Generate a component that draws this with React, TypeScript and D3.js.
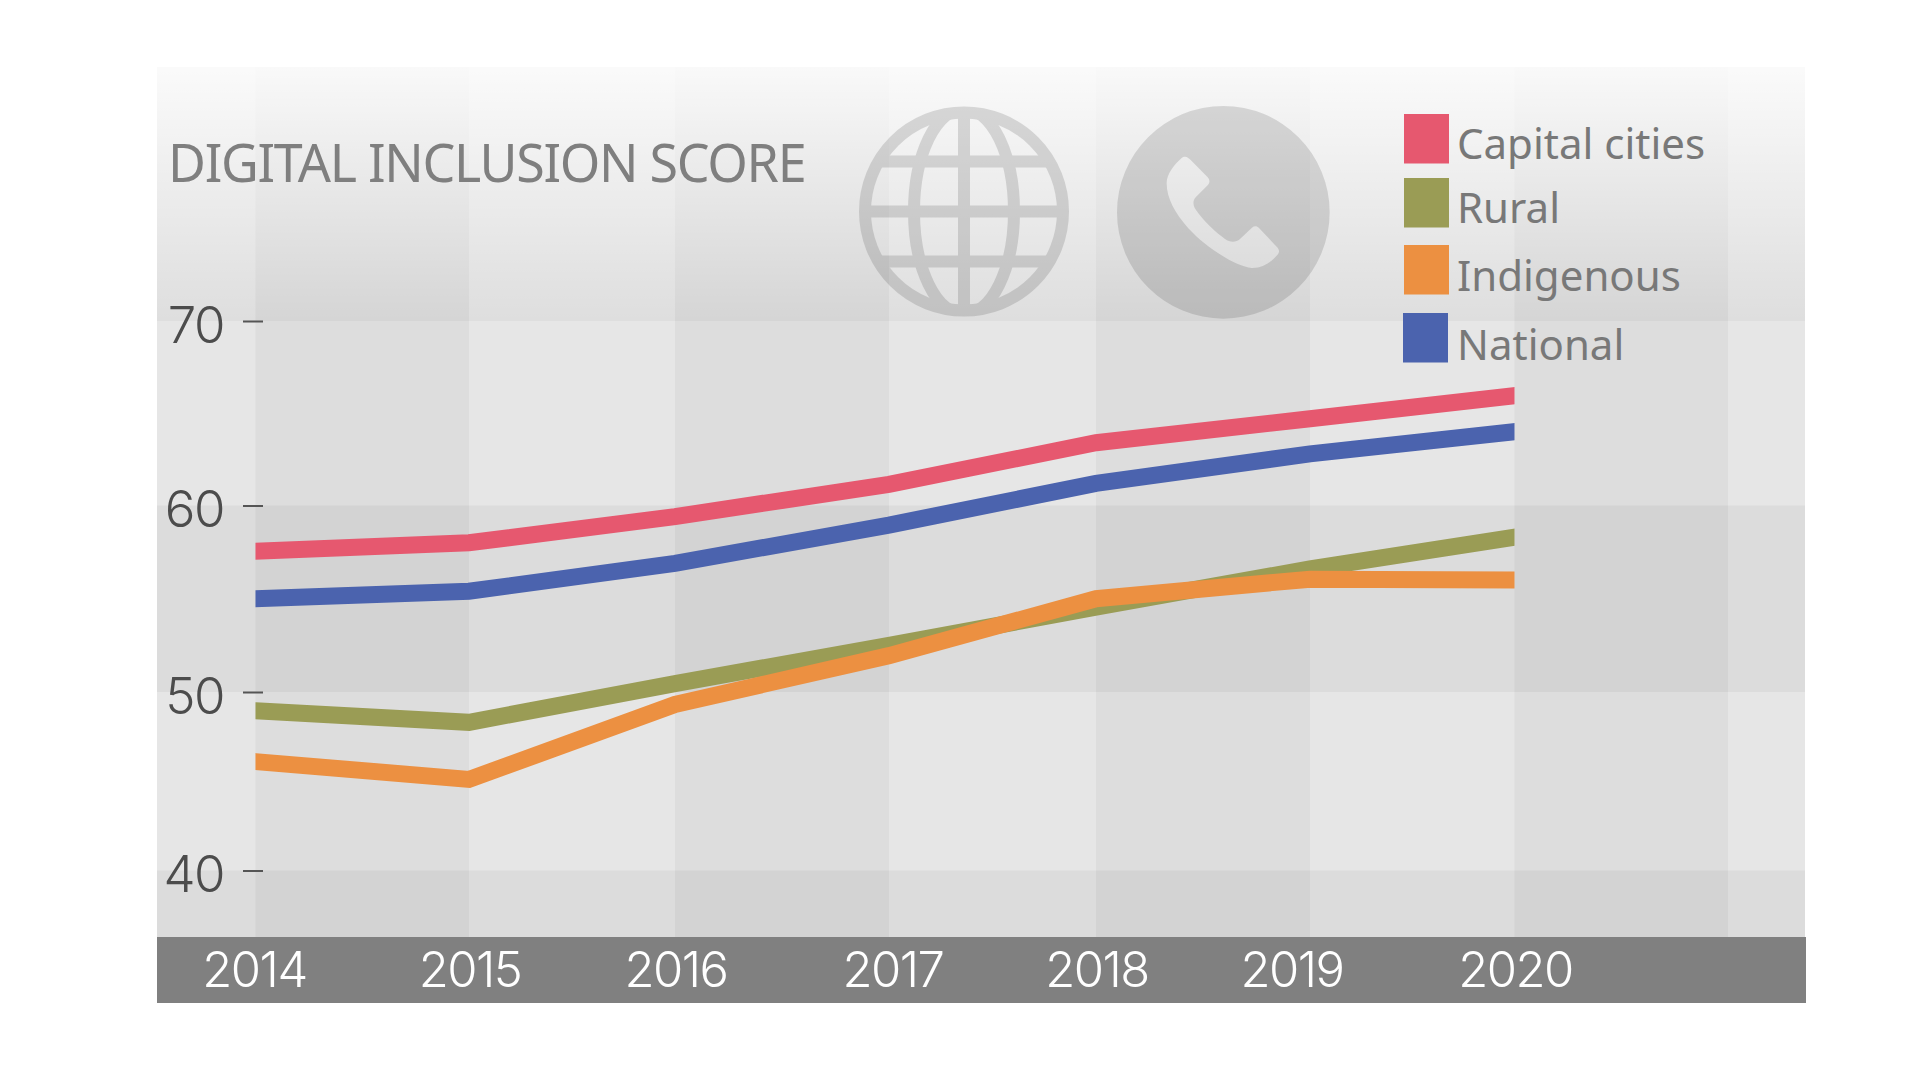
import { useEffect, useRef } from "react";
import * as d3 from "d3";

const years = [2014, 2015, 2016, 2017, 2018, 2019, 2020, 2021];
const yearLabels = [2014, 2015, 2016, 2017, 2018, 2019, 2020];
const yTicks = [40, 50, 60, 70];

const capitalCities = [57.55, 58.0, 59.4, 61.15, 63.4, 64.7, 65.95];
const rural = [48.95, 48.3, 50.45, 52.5, 54.55, 56.6, 58.3];
const indigenous = [46.1, 45.1, 49.3, 51.95, 55.0, 56.05, 56.0];
const national = [55.0, 55.4, 56.9, 58.95, 61.2, 62.8, 64.0];

const legendNames = ["Capital cities", "Rural", "Indigenous", "National"];
const legendColors = ["#e6586f", "#9a9c55", "#ec9041", "#4b63ae"];

const WIDTH = 1920;
const HEIGHT = 1080;
const LEFT = 157;
const RIGHT = 1805;
const TOP = 67;
const PLOT_BOTTOM = 937;
const BAR_BOTTOM = 1003;
const FONT = "'Noto Sans', sans-serif";
const NUM_FONT = "Inter, sans-serif";

export default function App() {
  const svgRef = useRef<SVGSVGElement>(null);

  useEffect(() => {
    if (!svgRef.current) return;
    const svg = d3.select(svgRef.current);
    svg.selectAll("*").remove();

    // the columns and bands of the original are not quite even, so both scales are piecewise
    const x = d3.scaleLinear()
      .domain(years)
      .range([255.5, 469, 675, 889, 1096, 1310, 1514.5, 1728]);
    const y = d3.scaleLinear()
      .domain([40, 50, 60, 70])
      .range([870.5, 692, 505.5, 321]);

    const defs = svg.append("defs");
    const grad = defs.append("linearGradient")
      .attr("id", "topFade")
      .attr("x1", 0).attr("x2", 0).attr("y1", 0).attr("y2", 1);
    grad.append("stop").attr("offset", 0).attr("stop-color", "#fff").attr("stop-opacity", 0.86);
    grad.append("stop").attr("offset", 1).attr("stop-color", "#fff").attr("stop-opacity", 0);
    defs.append("clipPath").attr("id", "lineClip")
      .append("rect")
      .attr("x", x(2014)).attr("y", TOP)
      .attr("width", x(2020) - x(2014)).attr("height", PLOT_BOTTOM - TOP);

    // background
    svg.append("rect")
      .attr("x", LEFT).attr("y", y(70))
      .attr("width", RIGHT - LEFT).attr("height", PLOT_BOTTOM - y(70))
      .attr("fill", "#e6e6e6");
    svg.append("rect")
      .attr("x", LEFT).attr("y", TOP)
      .attr("width", RIGHT - LEFT).attr("height", y(70) - TOP)
      .attr("fill", "#dedede");
    svg.append("rect")
      .attr("x", LEFT).attr("y", y(60))
      .attr("width", RIGHT - LEFT).attr("height", y(50) - y(60))
      .attr("fill", "#000").attr("opacity", 0.045);
    svg.append("rect")
      .attr("x", LEFT).attr("y", y(40))
      .attr("width", RIGHT - LEFT).attr("height", PLOT_BOTTOM - y(40))
      .attr("fill", "#000").attr("opacity", 0.045);
    svg.append("g")
      .selectAll("rect")
      .data(years.slice(0, -1).filter((_, i) => i % 2 === 0))
      .join("rect")
      .attr("x", d => x(d))
      .attr("y", TOP)
      .attr("width", d => x(d + 1) - x(d))
      .attr("height", PLOT_BOTTOM - TOP)
      .attr("fill", "#000")
      .attr("opacity", 0.04);
    svg.append("rect")
      .attr("x", LEFT).attr("y", TOP)
      .attr("width", RIGHT - LEFT).attr("height", y(70) - TOP)
      .attr("fill", "url(#topFade)");

    // globe
    const globe = svg.append("g")
      .attr("transform", "translate(964,211.5)")
      .attr("fill", "none")
      .attr("stroke", "#000")
      .attr("stroke-width", 12)
      .attr("opacity", 0.125);
    const globeClip = defs.append("clipPath").attr("id", "globeClip");
    globeClip.append("circle").attr("r", 100);
    globe.append("circle").attr("r", 99);
    const inner = globe.append("g").attr("clip-path", "url(#globeClip)");
    inner.append("ellipse").attr("rx", 50).attr("ry", 103);
    inner.append("line").attr("y1", -100).attr("y2", 100);
    [-50, 0, 50].forEach(d => {
      inner.append("line").attr("x1", -100).attr("x2", 100).attr("y1", d).attr("y2", d);
    });

    // phone, the handset is knocked out of the disc
    const disc = d3.path();
    disc.arc(1150, 457, 319, 0, Math.PI * 2);
    const handset = "M1035 290 C1042 290 1048 296 1052 300 L1103 352 C1110 360 1110 368 1103 376 L1067 412 C1058 422 1058 436 1068 450 C1090 482 1125 515 1155 537 C1170 548 1188 548 1200 537 L1236 503 C1243 497 1250 497 1257 504 L1310 560 C1318 568 1320 576 1312 585 C1290 610 1265 625 1235 624 C1190 620 1100 565 1045 505 C1005 460 980 415 980 370 C980 340 1005 312 1025 294 C1028 291 1031 290 1035 290 Z";
    svg.append("path")
      .attr("transform", "translate(840,60) scale(0.33333)")
      .attr("d", disc.toString() + handset)
      .attr("fill", "#000")
      .attr("fill-rule", "evenodd")
      .attr("opacity", 0.125);

    // bottom bar
    svg.append("rect")
      .attr("x", LEFT).attr("y", PLOT_BOTTOM)
      .attr("width", RIGHT + 1 - LEFT).attr("height", BAR_BOTTOM - PLOT_BOTTOM)
      .attr("fill", "#808080");

    // title
    svg.append("text")
      .attr("x", 168).attr("y", 182)
      .attr("font-family", FONT).attr("font-size", 52)
      .attr("letter-spacing", -1.3)
      .attr("fill", "#7f7f7f")
      .text("DIGITAL INCLUSION SCORE");

    // lines, orange sits over green
    const line = d3.line<number>()
      .x((_, i) => x(years[i]))
      .y(d => y(d));
    const series: [number[], string][] = [
      [rural, legendColors[1]],
      [indigenous, legendColors[2]],
      [capitalCities, legendColors[0]],
      [national, legendColors[3]],
    ];
    svg.append("g")
      .attr("clip-path", "url(#lineClip)")
      .selectAll("path")
      .data(series)
      .join("path")
      .attr("d", d => line(d[0]))
      .attr("fill", "none")
      .attr("stroke", d => d[1])
      .attr("stroke-width", 17)
      .attr("stroke-linecap", "square");

    // y axis
    const yAxis = svg.append("g")
      .attr("transform", "translate(263,0)")
      .call(d3.axisLeft(y).tickValues(yTicks).tickSize(20).tickPadding(19).tickFormat(d3.format("d")));
    yAxis.select(".domain").remove();
    yAxis.selectAll("line").attr("stroke", "#555").attr("stroke-width", 2);
    yAxis.selectAll("text")
      .attr("font-family", NUM_FONT).attr("font-size", 51).attr("font-weight", 300)
      .attr("letter-spacing", -1.5)
      .attr("dy", "0.42em")
      .attr("fill", "#4c4c4c");

    // x labels sit a little off the column edges in the original
    const labelShift: Record<number, number> = { 2014: 0, 2015: 2, 2016: 2, 2017: 5, 2018: 2, 2019: -17, 2020: 2 };
    svg.append("g")
      .selectAll("text")
      .data(yearLabels)
      .join("text")
      .attr("x", d => x(d) + labelShift[d] - 1)
      .attr("y", 987)
      .attr("text-anchor", "middle")
      .attr("font-family", NUM_FONT).attr("font-size", 49).attr("font-weight", 300)
      .attr("letter-spacing", -1.5)
      .attr("fill", "#fff")
      .text(d => d);

    // legend
    const swatchX = [1404, 1404, 1404, 1403];
    const swatchY = [114, 178, 245, 313];
    const baselines = [159, 222.5, 291, 360];
    const legend = svg.append("g");
    legendNames.forEach((name, i) => {
      legend.append("rect")
        .attr("x", swatchX[i]).attr("y", swatchY[i])
        .attr("width", 45).attr("height", 49.5)
        .attr("fill", legendColors[i]);
      legend.append("text")
        .attr("x", 1457).attr("y", baselines[i])
        .attr("font-family", FONT).attr("font-size", 42)
        .attr("fill", "#787878")
        .text(name);
    });
  }, []);

  return (
    <svg
      ref={svgRef}
      width={WIDTH}
      height={HEIGHT}
      style={{ position: "absolute", left: 0, top: 0, background: "#fff" }}
    />
  );
}
